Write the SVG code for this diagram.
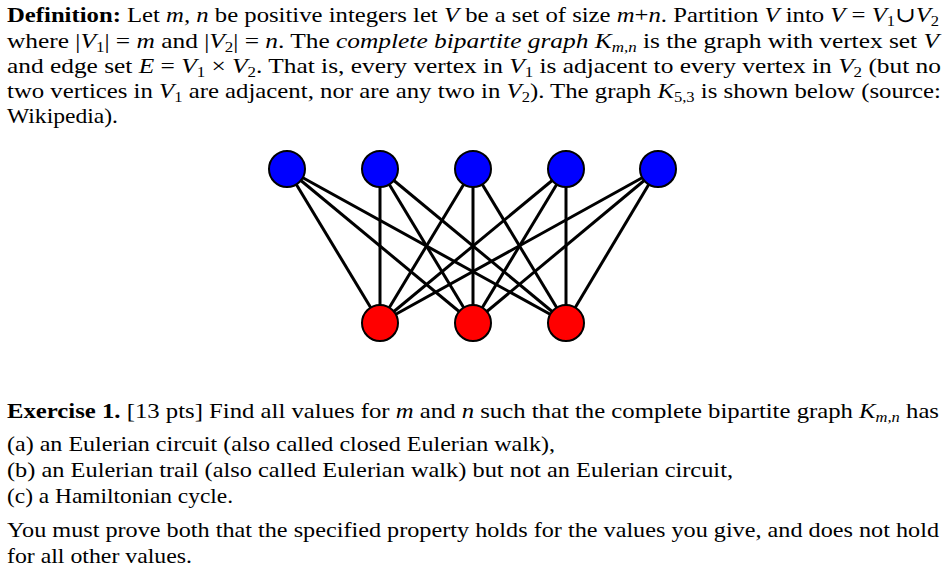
<svg xmlns="http://www.w3.org/2000/svg" width="946" height="568" viewBox="0 0 946 568">
<style>
text{font-family:"Liberation Serif","DejaVu Serif",serif;font-size:21px;fill:#000}
.b{font-weight:bold}
.i{font-style:italic}
.s{font-size:14px}
.e line{stroke:#000;stroke-width:3}
.v1{fill:#0000ff;stroke:#000;stroke-width:2}
.v2{fill:#ff0000;stroke:#000;stroke-width:2}
</style>
<rect width="946" height="568" fill="#fff"/>
<text x="7" y="22" textLength="932" lengthAdjust="spacingAndGlyphs"><tspan class="b">Definition:</tspan>  Let <tspan class="i">m, n</tspan> be positive integers let <tspan class="i">V</tspan> be a set of size <tspan class="i">m</tspan>+<tspan class="i">n</tspan>. Partition <tspan class="i">V</tspan> into <tspan class="i">V</tspan> = <tspan class="i">V</tspan><tspan class="s" dy="4">1</tspan><tspan dy="-4">∪</tspan><tspan class="i">V</tspan><tspan class="s" dy="4">2</tspan></text>
<text x="7" y="48" textLength="932" lengthAdjust="spacingAndGlyphs">where |<tspan class="i">V</tspan><tspan class="s" dy="4">1</tspan><tspan dy="-4">| = </tspan><tspan class="i">m</tspan> and |<tspan class="i">V</tspan><tspan class="s" dy="4">2</tspan><tspan dy="-4">| = </tspan><tspan class="i">n</tspan>.  The <tspan class="i">complete bipartite graph K</tspan><tspan class="s i" dy="4">m,n</tspan><tspan dy="-4"> is the graph with vertex set </tspan><tspan class="i">V</tspan></text>
<text x="7" y="73" textLength="934" lengthAdjust="spacingAndGlyphs">and edge set <tspan class="i">E</tspan> = <tspan class="i">V</tspan><tspan class="s" dy="4">1</tspan><tspan dy="-4"> × </tspan><tspan class="i">V</tspan><tspan class="s" dy="4">2</tspan><tspan dy="-4">.  That is, every vertex in </tspan><tspan class="i">V</tspan><tspan class="s" dy="4">1</tspan><tspan dy="-4"> is adjacent to every vertex in </tspan><tspan class="i">V</tspan><tspan class="s" dy="4">2</tspan><tspan dy="-4"> (but no</tspan></text>
<text x="7" y="98" textLength="934" lengthAdjust="spacingAndGlyphs">two vertices in <tspan class="i">V</tspan><tspan class="s" dy="4">1</tspan><tspan dy="-4"> are adjacent, nor are any two in </tspan><tspan class="i">V</tspan><tspan class="s" dy="4">2</tspan><tspan dy="-4">).  The graph </tspan><tspan class="i">K</tspan><tspan class="s" dy="4">5,3</tspan><tspan dy="-4"> is shown below (source:</tspan></text>
<text x="7" y="123" textLength="111" lengthAdjust="spacingAndGlyphs">Wikipedia).</text>
<g class="e" id="edges">
<line x1="287" y1="169" x2="380" y2="323"/><line x1="287" y1="169" x2="473" y2="323"/><line x1="287" y1="169" x2="566" y2="323"/>
<line x1="380" y1="169" x2="380" y2="323"/><line x1="380" y1="169" x2="473" y2="323"/><line x1="380" y1="169" x2="566" y2="323"/>
<line x1="473" y1="169" x2="380" y2="323"/><line x1="473" y1="169" x2="473" y2="323"/><line x1="473" y1="169" x2="566" y2="323"/>
<line x1="566" y1="169" x2="380" y2="323"/><line x1="566" y1="169" x2="473" y2="323"/><line x1="566" y1="169" x2="566" y2="323"/>
<line x1="658" y1="169" x2="380" y2="323"/><line x1="658" y1="169" x2="473" y2="323"/><line x1="658" y1="169" x2="566" y2="323"/>
</g>
<g id="a1"><circle class="v1" cx="287" cy="169" r="18"/></g>
<g id="a2"><circle class="v1" cx="380" cy="169" r="18"/></g>
<g id="a3"><circle class="v1" cx="473" cy="169" r="18"/></g>
<g id="a4"><circle class="v1" cx="566" cy="169" r="18"/></g>
<g id="a5"><circle class="v1" cx="658" cy="169" r="18"/></g>
<g id="b1"><circle class="v2" cx="380" cy="323" r="18"/></g>
<g id="b2"><circle class="v2" cx="473" cy="323" r="18"/></g>
<g id="b3"><circle class="v2" cx="566" cy="323" r="18"/></g>
<text x="7" y="418" textLength="932" lengthAdjust="spacingAndGlyphs"><tspan class="b">Exercise 1.</tspan>  [13 pts] Find all values for <tspan class="i">m</tspan> and <tspan class="i">n</tspan> such that the complete bipartite graph <tspan class="i">K</tspan><tspan class="s i" dy="4">m,n</tspan><tspan dy="-4"> has</tspan></text>
<text x="7" y="451" textLength="548" lengthAdjust="spacingAndGlyphs">(a) an Eulerian circuit (also called closed Eulerian walk),</text>
<text x="7" y="477" textLength="726" lengthAdjust="spacingAndGlyphs">(b) an Eulerian trail (also called Eulerian walk) but not an Eulerian circuit,</text>
<text x="7" y="503" textLength="226" lengthAdjust="spacingAndGlyphs">(c) a Hamiltonian cycle.</text>
<text x="7" y="537" textLength="932" lengthAdjust="spacingAndGlyphs">You must prove both that the specified property holds for the values you give, and does not hold</text>
<text x="7" y="563" textLength="185" lengthAdjust="spacingAndGlyphs">for all other values.</text>
</svg>
